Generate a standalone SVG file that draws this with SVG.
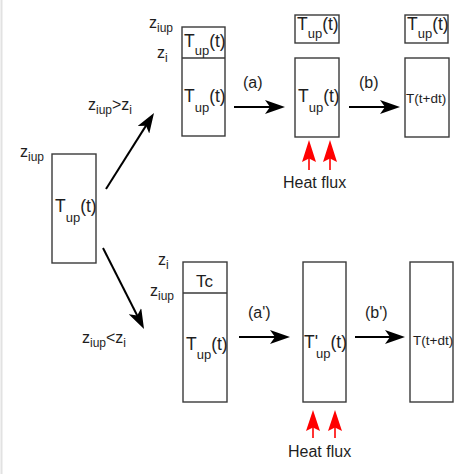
<svg xmlns="http://www.w3.org/2000/svg" width="474" height="474" viewBox="0 0 474 474">
<defs>
<style>
text{font-family:"Liberation Sans",Arial,sans-serif;fill:#1e1e1e}
.box{fill:#fff;stroke:#3a3a3a;stroke-width:1.4}
.div{stroke:#3a3a3a;stroke-width:1.4}
.T{font-size:17.5px}
.sub{font-size:13px}
.z{font-size:16px}
.zs{font-size:12px}
.lbl{font-size:16px}
.small{font-size:13.5px}
.arr{stroke:#000;stroke-width:2;fill:none;marker-end:url(#ah)}
.red{fill:#ff0000}
.redl{stroke:#ff0000;stroke-width:1.6}
</style>
<marker id="ah" viewBox="0 0 20 14" refX="8" refY="7" markerWidth="20" markerHeight="14" markerUnits="userSpaceOnUse" orient="auto">
<path d="M0,0 L20,7 L0,14 L5,7 Z" fill="#000"/>
</marker>
</defs>
<rect width="474" height="474" fill="#fff"/>
<line x1="1.5" y1="0" x2="1.5" y2="474" stroke="#e2e2e2" stroke-width="2"/>

<g id="left-box">
<rect class="box" x="52" y="154" width="44" height="109"/>
<text class="z" x="20" y="157">z<tspan class="zs" dy="4">iup</tspan></text>
<text class="T" x="55" y="212">T<tspan class="sub" dy="10">up</tspan><tspan dy="-10">(t)</tspan></text>
</g>

<g id="upper-a-box">
<rect class="box" x="182" y="27" width="43" height="109"/>
<line class="div" x1="182" y1="58" x2="225" y2="58"/>
<text class="z" x="149" y="28">z<tspan class="zs" dy="4">iup</tspan></text>
<text class="z" x="157" y="58">z<tspan class="zs" dy="4">i</tspan></text>
<text class="T" x="184" y="47">T<tspan class="sub" dy="8">up</tspan><tspan dy="-8">(t)</tspan></text>
<text class="T" x="184" y="102">T<tspan class="sub" dy="10">up</tspan><tspan dy="-10">(t)</tspan></text>
</g>

<g id="upper-b-top">
<rect class="box" x="295" y="15" width="44" height="28"/>
<text class="T" x="297" y="30">T<tspan class="sub" dy="8">up</tspan><tspan dy="-8">(t)</tspan></text>
</g>
<g id="upper-b-box">
<rect class="box" x="295" y="58" width="44" height="79"/>
<text class="T" x="298" y="102">T<tspan class="sub" dy="10">up</tspan><tspan dy="-10">(t)</tspan></text>
</g>
<g id="upper-c-top">
<rect class="box" x="405" y="15" width="43" height="28"/>
<text class="T" x="407" y="30">T<tspan class="sub" dy="8">up</tspan><tspan dy="-8">(t)</tspan></text>
</g>
<g id="upper-c-box">
<rect class="box" x="405" y="58" width="44" height="79"/>
<text class="small" x="406" y="103">T(t+dt)</text>
</g>

<g id="lower-a-box">
<rect class="box" x="183" y="262" width="44" height="140"/>
<line class="div" x1="183" y1="293" x2="227" y2="293"/>
<text class="z" x="158" y="265">z<tspan class="zs" dy="4">i</tspan></text>
<text class="z" x="150" y="296">z<tspan class="zs" dy="4">iup</tspan></text>
<text x="196" y="287" font-size="17">Tc</text>
<text class="T" x="186" y="350">T<tspan class="sub" dy="9">up</tspan><tspan dy="-9">(t)</tspan></text>
</g>
<g id="lower-b-box">
<rect class="box" x="303" y="262" width="43" height="140"/>
<text class="T" x="304" y="348">T'<tspan class="sub" dy="10" dx="-2">up</tspan><tspan dy="-10">(t)</tspan></text>
</g>
<g id="lower-c-box">
<rect class="box" x="410" y="262" width="43" height="140"/>
<text class="small" x="413" y="345">T(t+dt)</text>
</g>

<g id="connectors">
<line class="arr" x1="106" y1="189" x2="147.6" y2="123.1"/>
<line class="arr" x1="103" y1="248" x2="138.6" y2="318.3"/>
<line class="arr" x1="234" y1="107" x2="273" y2="107"/>
<line class="arr" x1="349" y1="107" x2="388" y2="107"/>
<line class="arr" x1="239" y1="337" x2="278" y2="337"/>
<line class="arr" x1="355" y1="337" x2="393" y2="337"/>
<text class="lbl" x="88" y="110">z<tspan class="zs" dy="4">iup</tspan><tspan dy="-4">&gt;z</tspan><tspan class="zs" dy="4">i</tspan></text>
<text class="lbl" x="82" y="343">z<tspan class="zs" dy="4">iup</tspan><tspan dy="-4">&lt;z</tspan><tspan class="zs" dy="4">i</tspan></text>
<text class="lbl" x="243" y="88">(a)</text>
<text class="lbl" x="359" y="88">(b)</text>
<text class="lbl" x="248" y="318">(a')</text>
<text class="lbl" x="365" y="318">(b')</text>
</g>

<g id="heat-flux-upper">
<line class="redl" x1="309" y1="158" x2="309" y2="170"/>
<path class="red" d="M302,162 L309,140 L316,162 L309,158.5 Z"/>
<line class="redl" x1="330" y1="158" x2="330" y2="170"/>
<path class="red" d="M323,162 L330,140 L337,162 L330,158.5 Z"/>
<text class="lbl" x="283" y="188">Heat flux</text>
</g>
<g id="heat-flux-lower">
<line class="redl" x1="313" y1="427" x2="313" y2="438"/>
<path class="red" d="M306,431 L313,410 L320,431 L313,427.5 Z"/>
<line class="redl" x1="335" y1="427" x2="335" y2="438"/>
<path class="red" d="M328,431 L335,410 L342,431 L335,427.5 Z"/>
<text class="lbl" x="288" y="457">Heat flux</text>
</g>
</svg>
